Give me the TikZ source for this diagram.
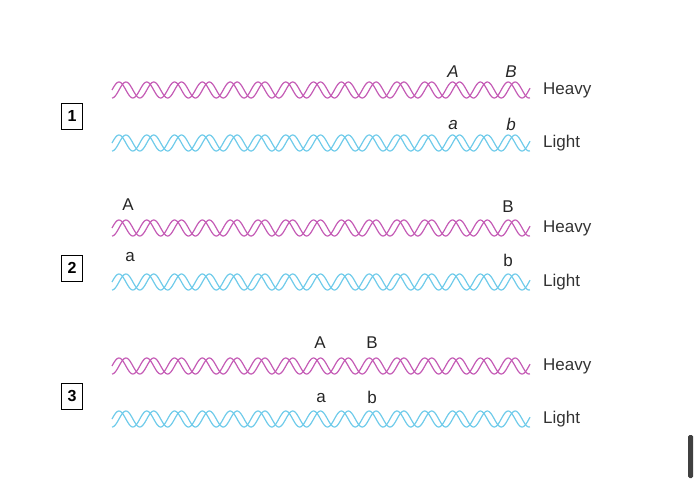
\documentclass[tikz,border=0pt]{standalone}
\usepackage{fontspec}
\setmainfont{Liberation Sans}
\definecolor{heavyc}{HTML}{C45BB5}
\definecolor{lightc}{HTML}{6FCBEA}
\tikzset{
  strand/.style={line width=1.2pt},
  numbox/.style={draw, line width=0.8pt, minimum width=21pt, minimum height=26pt, inner sep=0pt, font=\bfseries\fontsize{16}{16}\selectfont},
  lab/.style={font=\fontsize{17}{17}\selectfont, text=black!85, inner sep=1pt},
  side/.style={font=\fontsize{17}{17}\selectfont, text=black!80, anchor=west, inner sep=0pt}
}
\newcommand{\helixrow}[2]{%
  \draw[strand,#2] plot[domain=0:418, samples=420, smooth] ({112+\x}, {#1-8*sin(\x/27.8*360)});
  \draw[strand,#2] plot[domain=0:418, samples=420, smooth] ({112+\x}, {#1-8*sin((\x-7)/27.8*360)});
}
\begin{document}
\begin{tikzpicture}[x=1pt,y=-1pt]
\useasboundingbox (0,0) rectangle (700,479);
\helixrow{90}{heavyc}
\helixrow{143}{lightc}
\helixrow{228}{heavyc}
\helixrow{282}{lightc}
\helixrow{366}{heavyc}
\helixrow{419}{lightc}
\node[numbox] (n1) at (72,116) {1};
\node[numbox] (n2) at (72,268) {2};
\node[numbox] (n3) at (72,396) {3};
\foreach \y/\t [count=\i] in {90/Heavy,143/Light,228/Heavy,282/Light,366/Heavy,419/Light}
  \node[side] (s\i) at (543,\y) {\t};
\node[lab,font=\itshape\fontsize{17}{17}\selectfont] (A1) at (453,72) {A};
\node[lab,font=\itshape\fontsize{17}{17}\selectfont] (B1) at (511,72) {B};
\node[lab,font=\itshape\fontsize{17}{17}\selectfont] (a1) at (453,125) {a};
\node[lab,font=\itshape\fontsize{17}{17}\selectfont] (b1) at (511,124) {b};
\node[lab] (A2) at (128,205) {A};
\node[lab] (B2) at (508,207) {B};
\node[lab] (a2) at (130,257) {a};
\node[lab] (b2) at (508,260) {b};
\node[lab] (A3) at (320,343) {A};
\node[lab] (B3) at (372,343) {B};
\node[lab] (a3) at (321,398) {a};
\node[lab] (b3) at (372,397) {b};
\fill[black!75, rounded corners=1.5pt] (688,435) rectangle (693,478);
\end{tikzpicture}
\end{document}
